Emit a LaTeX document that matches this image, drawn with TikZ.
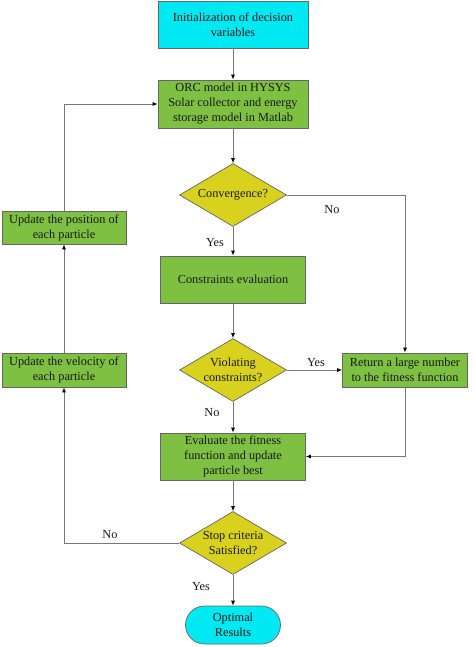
\documentclass[tikz,border=0pt]{standalone}
\usepackage{fontspec}
\setmainfont{Liberation Serif}
\usetikzlibrary{shapes.geometric,shapes.misc,arrows.meta}
\definecolor{boxcyan}{RGB}{0,232,242}
\definecolor{boxgreen}{RGB}{126,192,66}
\definecolor{boxyellow}{RGB}{216,210,30}
\definecolor{linegray}{RGB}{120,120,120}
\tikzset{
	base/.style={draw=black!60, line width=0.7pt, text=black!90, inner sep=0pt, align=center, font=\fontsize{12.3}{15}\selectfont},
	startbox/.style={base, rectangle, fill=boxcyan, minimum width=150pt, minimum height=47pt},
	procbox/.style={base, rectangle, fill=boxgreen},
	decision/.style={base, diamond, aspect=1.7, fill=boxyellow, minimum width=107pt, minimum height=63pt},
	endbox/.style={base, rounded rectangle, fill=boxcyan, minimum width=95pt, minimum height=38pt},
	flow/.style={draw=linegray, line width=0.8pt, -{Latex[length=5pt,width=4pt,color=black]}},
	flowlabel/.style={font=\fontsize{12.3}{15}\selectfont, text=black!90}
}

\begin{document}
\begin{tikzpicture}[x=1pt, y=-1pt]
			%%%%% START %%%%%
			\useasboundingbox (0, 0) rectangle (474, 647);
			
			\node[startbox] (init) at (233, 24.5) {Initialization of decision\\variables};
			\node[procbox, minimum width=150pt, minimum height=48pt] (orc) at (233, 104) {ORC model in HYSYS\\Solar collector and energy\\storage model in Matlab};
			\node[decision] (conv) at (233, 195) {Convergence?};
			\node[procbox, minimum width=145pt, minimum height=47pt] (cons) at (233, 279.5) {Constraints evaluation};
			\node[decision] (viol) at (233, 370) {Violating\\constraints?};
			\node[procbox, minimum width=125pt, minimum height=34pt] (ret) at (405, 370) {Return a large number\\to the fitness function};
			\node[procbox, minimum width=145pt, minimum height=47pt] (eval) at (233, 456.5) {Evaluate the fitness\\function and update\\particle best};
			\node[decision] (stop) at (233, 543) {Stop criteria\\Satisfied?};
			\node[endbox] (opt) at (233, 625) {Optimal\\Results};
			
			\node[procbox, minimum width=124pt, minimum height=33pt] (pos) at (64, 227.5) {Update the position of\\each particle};
			\node[procbox, minimum width=124pt, minimum height=34pt] (vel) at (64, 370) {Update the velocity of\\each particle};
			
			\coordinate (convcorner) at (405, 195);
			\coordinate (retcorner) at (405, 456.5);
			\coordinate (stopcorner) at (64, 543);
			\coordinate (poscorner) at (64, 104);
			
			\draw[flow] (init) -- (orc);
			\draw[flow] (orc) -- (conv);
			\draw[flow] (conv) -- (cons);
			\draw[flow] (conv.east) -- (convcorner) -- (ret.north);
			\draw[flow] (cons) -- (viol);
			\draw[flow] (viol) -- (ret);
			\draw[flow] (viol) -- (eval);
			\draw[flow] (ret.south) -- (retcorner) -- (eval.east);
			\draw[flow] (eval) -- (stop);
			\draw[flow] (stop) -- (opt);
			\draw[flow] (stop.west) -- (stopcorner) -- (vel.south);
			\draw[flow] (vel) -- (pos);
			\draw[flow] (pos.north) -- (poscorner) -- (orc.west);
			
			\node[flowlabel] (convyes) at (215, 243) {Yes};
			\node[flowlabel] (convno) at (332, 210) {No};
			\node[flowlabel] (violyes) at (316, 363) {Yes};
			\node[flowlabel] (violno) at (212, 413) {No};
			\node[flowlabel] (stopno) at (110, 535) {No};
			\node[flowlabel] (stopyes) at (201, 587) {Yes};
			%%%%% END %%%%%
\end{tikzpicture}
\end{document}
